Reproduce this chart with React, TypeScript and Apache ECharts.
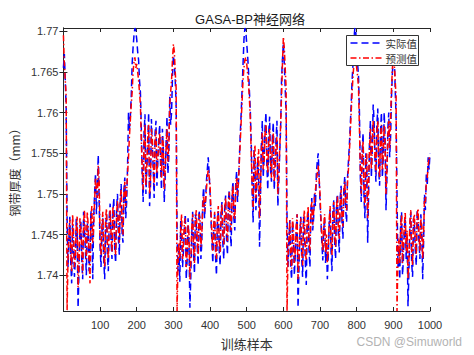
import React, { useEffect, useRef } from "react";
import * as echarts from "echarts";

const titleText = "GASA-BP神经网络";
const xName = "训练样本";
const yName = "钢带厚度（mm）";
const seriesNames = ["实际值", "预测值"];
const xTicks = [100, 200, 300, 400, 500, 600, 700, 800, 900, 1000];
const yTicks = [1.74, 1.745, 1.75, 1.755, 1.76, 1.765, 1.77];

// values read at samples 0,5,10,...,1000
const actual = [
  1.7655, 1.7640, 1.7470, 1.7445, 1.7415, 1.7462, 1.7398, 1.7470, 1.7360, 1.7455,
  1.7420, 1.7478, 1.7430, 1.7465, 1.7405, 1.7480, 1.7395, 1.7500, 1.7475, 1.7548,
  1.7435, 1.7452, 1.7418, 1.7460, 1.7425, 1.7472, 1.7440, 1.7478, 1.7430, 1.7482,
  1.7445, 1.7490, 1.7452, 1.7505, 1.7470, 1.7535, 1.7580, 1.7620, 1.7680, 1.7704,
  1.7690, 1.7665, 1.7625, 1.7520, 1.7575, 1.7500, 1.7560, 1.7485, 1.7592, 1.7530,
  1.7575, 1.7510, 1.7568, 1.7535, 1.7580, 1.7490, 1.7560, 1.7525, 1.7620, 1.7600,
  1.7670, 1.7640, 1.7455, 1.7430, 1.7468, 1.7410, 1.7458, 1.7395, 1.7470, 1.7360,
  1.7450, 1.7425, 1.7475, 1.7435, 1.7480, 1.7420, 1.7492, 1.7470, 1.7515, 1.7545,
  1.7500, 1.7440, 1.7458, 1.7422, 1.7465, 1.7430, 1.7478, 1.7438, 1.7485, 1.7445,
  1.7492, 1.7455, 1.7500, 1.7470, 1.7512, 1.7490, 1.7545, 1.7600, 1.7660, 1.7704,
  1.7685, 1.7650, 1.7600, 1.7500, 1.7555, 1.7480, 1.7545, 1.7435, 1.7560, 1.7520,
  1.7582, 1.7535, 1.7575, 1.7530, 1.7570, 1.7505, 1.7568, 1.7485, 1.7550, 1.7640,
  1.7685, 1.7630, 1.7470, 1.7440, 1.7410, 1.7465, 1.7400, 1.7455, 1.7360, 1.7450,
  1.7420, 1.7472, 1.7415, 1.7465, 1.7430, 1.7480, 1.7455, 1.7500, 1.7525, 1.7550,
  1.7490, 1.7440, 1.7455, 1.7415, 1.7395, 1.7462, 1.7430, 1.7478, 1.7440, 1.7488,
  1.7450, 1.7495, 1.7465, 1.7505, 1.7480, 1.7520, 1.7560, 1.7610, 1.7660, 1.7704,
  1.7670, 1.7645, 1.7520, 1.7555, 1.7495, 1.7550, 1.7440, 1.7565, 1.7520, 1.7610,
  1.7540, 1.7585, 1.7530, 1.7575, 1.7520, 1.7600, 1.7480, 1.7580, 1.7545, 1.7620,
  1.7665, 1.7630, 1.7500, 1.7435, 1.7465, 1.7400, 1.7455, 1.7420, 1.7362, 1.7458,
  1.7415, 1.7470, 1.7430, 1.7480, 1.7440, 1.7475, 1.7395, 1.7500, 1.7525, 1.7545,
  1.7550,
];

// values read at samples 2.5,7.5,...,997.5
const actualMid = [
  1.7672, 1.7605, 1.7410, 1.7472, 1.7390, 1.7440, 1.7418, 1.7452, 1.7405, 1.7468,
  1.7395, 1.7455, 1.7400, 1.7450, 1.7428, 1.7460, 1.7470, 1.7525, 1.7510, 1.7490,
  1.7410, 1.7470, 1.7395, 1.7475, 1.7405, 1.7488, 1.7420, 1.7495, 1.7415, 1.7500,
  1.7425, 1.7512, 1.7440, 1.7520, 1.7490, 1.7600, 1.7595, 1.7660, 1.7695, 1.7700,
  1.7675, 1.7640, 1.7580, 1.7490, 1.7598, 1.7530, 1.7600, 1.7510, 1.7560, 1.7495,
  1.7590, 1.7540, 1.7585, 1.7505, 1.7555, 1.7520, 1.7595, 1.7545, 1.7585, 1.7645,
  1.7660, 1.7610, 1.7405, 1.7392, 1.7450, 1.7430, 1.7475, 1.7420, 1.7440, 1.7398,
  1.7478, 1.7402, 1.7462, 1.7412, 1.7468, 1.7440, 1.7508, 1.7490, 1.7530, 1.7525,
  1.7470, 1.7415, 1.7475, 1.7400, 1.7480, 1.7412, 1.7490, 1.7420, 1.7498, 1.7425,
  1.7505, 1.7435, 1.7515, 1.7455, 1.7528, 1.7515, 1.7575, 1.7630, 1.7690, 1.7700,
  1.7670, 1.7625, 1.7560, 1.7465, 1.7530, 1.7510, 1.7520, 1.7495, 1.7590, 1.7545,
  1.7600, 1.7505, 1.7595, 1.7515, 1.7588, 1.7530, 1.7590, 1.7515, 1.7580, 1.7665,
  1.7660, 1.7600, 1.7410, 1.7468, 1.7395, 1.7445, 1.7425, 1.7475, 1.7408, 1.7472,
  1.7398, 1.7455, 1.7388, 1.7478, 1.7410, 1.7495, 1.7470, 1.7485, 1.7540, 1.7520,
  1.7465, 1.7418, 1.7470, 1.7440, 1.7425, 1.7480, 1.7405, 1.7492, 1.7420, 1.7500,
  1.7428, 1.7510, 1.7445, 1.7522, 1.7465, 1.7540, 1.7585, 1.7640, 1.7690, 1.7700,
  1.7660, 1.7600, 1.7490, 1.7575, 1.7470, 1.7530, 1.7500, 1.7590, 1.7555, 1.7590,
  1.7515, 1.7605, 1.7510, 1.7600, 1.7545, 1.7570, 1.7520, 1.7600, 1.7570, 1.7650,
  1.7670, 1.7595, 1.7410, 1.7395, 1.7478, 1.7420, 1.7470, 1.7445, 1.7405, 1.7478,
  1.7398, 1.7462, 1.7412, 1.7468, 1.7420, 1.7455, 1.7440, 1.7480, 1.7510, 1.7530,
];

const predicted = [
  1.7695, 1.7640, 1.7357, 1.7450, 1.7430, 1.7475, 1.7410, 1.7460, 1.7385, 1.7470,
  1.7435, 1.7465, 1.7445, 1.7478, 1.7420, 1.7470, 1.7440, 1.7490, 1.7505, 1.7535,
  1.7445, 1.7462, 1.7428, 1.7470, 1.7438, 1.7465, 1.7450, 1.7485, 1.7440, 1.7475,
  1.7458, 1.7495, 1.7462, 1.7500, 1.7485, 1.7525, 1.7570, 1.7610, 1.7650, 1.7668,
  1.7660, 1.7640, 1.7610, 1.7530, 1.7565, 1.7510, 1.7570, 1.7500, 1.7580, 1.7540,
  1.7565, 1.7525, 1.7560, 1.7545, 1.7570, 1.7505, 1.7555, 1.7540, 1.7610, 1.7640,
  1.7684, 1.7650, 1.7356, 1.7440, 1.7460, 1.7420, 1.7465, 1.7410, 1.7462, 1.7395,
  1.7458, 1.7435, 1.7470, 1.7445, 1.7475, 1.7435, 1.7485, 1.7478, 1.7505, 1.7530,
  1.7510, 1.7450, 1.7462, 1.7435, 1.7470, 1.7442, 1.7472, 1.7450, 1.7480, 1.7455,
  1.7488, 1.7465, 1.7495, 1.7478, 1.7505, 1.7498, 1.7540, 1.7590, 1.7640, 1.7665,
  1.7660, 1.7635, 1.7590, 1.7510, 1.7548, 1.7495, 1.7540, 1.7470, 1.7555, 1.7530,
  1.7575, 1.7545, 1.7568, 1.7540, 1.7562, 1.7515, 1.7560, 1.7500, 1.7555, 1.7620,
  1.7693, 1.7655, 1.7356, 1.7445, 1.7425, 1.7470, 1.7415, 1.7460, 1.7395, 1.7455,
  1.7430, 1.7468, 1.7428, 1.7470, 1.7440, 1.7478, 1.7462, 1.7495, 1.7515, 1.7535,
  1.7500, 1.7448, 1.7460, 1.7428, 1.7415, 1.7468, 1.7440, 1.7472, 1.7450, 1.7482,
  1.7458, 1.7490, 1.7470, 1.7500, 1.7490, 1.7515, 1.7550, 1.7600, 1.7645, 1.7668,
  1.7655, 1.7630, 1.7530, 1.7548, 1.7505, 1.7545, 1.7470, 1.7558, 1.7530, 1.7590,
  1.7548, 1.7575, 1.7540, 1.7570, 1.7530, 1.7585, 1.7500, 1.7570, 1.7555, 1.7630,
  1.7668, 1.7640, 1.7356, 1.7445, 1.7460, 1.7415, 1.7462, 1.7430, 1.7395, 1.7465,
  1.7428, 1.7468, 1.7440, 1.7475, 1.7448, 1.7470, 1.7420, 1.7495, 1.7515, 1.7535,
  1.7540,
];

const predictedMid = [
  1.7660, 1.7620, 1.7420, 1.7468, 1.7405, 1.7455, 1.7425, 1.7472, 1.7415, 1.7455,
  1.7402, 1.7480, 1.7420, 1.7462, 1.7390, 1.7485, 1.7460, 1.7520, 1.7495, 1.7515,
  1.7425, 1.7478, 1.7410, 1.7482, 1.7420, 1.7480, 1.7428, 1.7470, 1.7425, 1.7492,
  1.7440, 1.7505, 1.7450, 1.7515, 1.7505, 1.7545, 1.7590, 1.7625, 1.7662, 1.7655,
  1.7650, 1.7625, 1.7565, 1.7505, 1.7585, 1.7535, 1.7585, 1.7520, 1.7568, 1.7510,
  1.7578, 1.7545, 1.7575, 1.7520, 1.7560, 1.7530, 1.7580, 1.7560, 1.7625, 1.7665,
  1.7675, 1.7630, 1.7415, 1.7420, 1.7475, 1.7440, 1.7470, 1.7428, 1.7450, 1.7418,
  1.7475, 1.7415, 1.7480, 1.7425, 1.7470, 1.7450, 1.7498, 1.7490, 1.7520, 1.7522,
  1.7480, 1.7430, 1.7478, 1.7420, 1.7485, 1.7428, 1.7488, 1.7438, 1.7495, 1.7442,
  1.7502, 1.7455, 1.7510, 1.7468, 1.7520, 1.7515, 1.7565, 1.7615, 1.7655, 1.7668,
  1.7648, 1.7615, 1.7545, 1.7480, 1.7560, 1.7515, 1.7555, 1.7505, 1.7575, 1.7540,
  1.7585, 1.7525, 1.7580, 1.7520, 1.7575, 1.7535, 1.7570, 1.7525, 1.7585, 1.7660,
  1.7680, 1.7630, 1.7420, 1.7468, 1.7408, 1.7455, 1.7430, 1.7475, 1.7420, 1.7470,
  1.7412, 1.7480, 1.7418, 1.7485, 1.7430, 1.7490, 1.7478, 1.7505, 1.7525, 1.7520,
  1.7470, 1.7430, 1.7475, 1.7450, 1.7432, 1.7485, 1.7425, 1.7490, 1.7435, 1.7498,
  1.7445, 1.7505, 1.7460, 1.7515, 1.7480, 1.7530, 1.7575, 1.7625, 1.7660, 1.7665,
  1.7645, 1.7580, 1.7500, 1.7565, 1.7485, 1.7550, 1.7510, 1.7580, 1.7555, 1.7575,
  1.7525, 1.7590, 1.7520, 1.7585, 1.7550, 1.7560, 1.7530, 1.7590, 1.7595, 1.7655,
  1.7660, 1.7620, 1.7420, 1.7415, 1.7475, 1.7435, 1.7478, 1.7455, 1.7420, 1.7480,
  1.7412, 1.7475, 1.7425, 1.7482, 1.7430, 1.7460, 1.7450, 1.7490, 1.7520, 1.7545,
];

const SAMPLE_STEP = 5;

function mergeSamples(main: number[], mid: number[]): number[][] {
  const out: number[][] = [];
  main.forEach((v, i) => {
    out.push([i * SAMPLE_STEP, v]);
    if (i < mid.length) out.push([i * SAMPLE_STEP + SAMPLE_STEP / 2, mid[i]]);
  });
  return out;
}

const AXIS_COLOR = "#262626";
const LABEL_COLOR = "#333333";
const FONT = "'Liberation Sans', Arial, 'Noto Sans CJK SC', sans-serif";
const CJK_FONT = "'Noto Sans CJK SC', sans-serif";

const BLUE_DASH = [7, 4];
const RED_DASH = [6, 2.5, 1.5, 2.5];

export default function App() {
  const ref = useRef<HTMLDivElement>(null);
  useEffect(() => {
    if (!ref.current) return;
    const chart = echarts.init(ref.current, undefined, { renderer: "svg" });
    const baseX = {
      type: "value" as const,
      min: 0,
      max: 1000,
      splitLine: { show: false },
      axisLine: { show: true, lineStyle: { color: AXIS_COLOR, width: 1 } },
      axisTick: { show: true, inside: true, length: 4, customValues: xTicks, lineStyle: { color: AXIS_COLOR } },
    };
    const baseY = {
      type: "value" as const,
      min: 1.7356,
      max: 1.7704,
      splitLine: { show: false },
      axisLine: { show: true, lineStyle: { color: AXIS_COLOR, width: 1 } },
      axisTick: { show: true, inside: true, length: 4, customValues: yTicks, lineStyle: { color: AXIS_COLOR } },
    };
    const LX = 346.5;
    const LY = 35.5;
    chart.setOption({
      animation: false,
      backgroundColor: "#ffffff",
      title: {
        text: titleText,
        left: 245,
        textAlign: "center",
        top: 8,
        textStyle: { fontSize: 13, fontWeight: "normal", color: "#1a1a1a", fontFamily: FONT },
      },
      grid: { left: 62, right: 44, top: 28, bottom: 40 },
      xAxis: [
        {
          ...baseX,
          position: "bottom",
          name: xName,
          nameLocation: "middle",
          nameGap: 26,
          nameTextStyle: { fontSize: 13, color: LABEL_COLOR, fontFamily: CJK_FONT },
          axisLabel: {
            show: true,
            customValues: xTicks,
            color: LABEL_COLOR,
            fontSize: 11,
            margin: 8,
            fontFamily: FONT,
            formatter: (v: number) => String(v),
          },
        },
        { ...baseX, position: "top", axisLabel: { show: false } },
      ],
      yAxis: [
        {
          ...baseY,
          position: "left",
          name: yName,
          nameLocation: "middle",
          nameGap: 35,
          nameTextStyle: { fontSize: 12, color: LABEL_COLOR, fontFamily: CJK_FONT },
          axisLabel: {
            show: true,
            customValues: yTicks,
            color: LABEL_COLOR,
            fontSize: 11,
            margin: 5,
            fontFamily: FONT,
            formatter: (v: number) => String(Number(v.toFixed(3))),
          },
        },
        { ...baseY, position: "right", axisLabel: { show: false } },
      ],
      series: [
        {
          name: seriesNames[0],
          type: "line",
          data: mergeSamples(actual, actualMid),
          symbol: "none",
          showSymbol: false,
          lineStyle: { color: "#0000ff", width: 1.5, type: BLUE_DASH },
          z: 2,
        },
        {
          name: seriesNames[1],
          type: "line",
          data: mergeSamples(predicted, predictedMid),
          symbol: "none",
          showSymbol: false,
          lineStyle: { color: "#ff0000", width: 1.5, type: RED_DASH },
          z: 3,
        },
      ],
      graphic: [
        {
          type: "rect",
          z: 100,
          zlevel: 0,
          shape: { x: LX, y: LY, width: 72, height: 30 },
          style: { fill: "#ffffff", stroke: "#333333", lineWidth: 1 },
        },
        {
          type: "line",
          z: 101,
          shape: { x1: LX + 4, y1: LY + 7.5, x2: LX + 36, y2: LY + 7.5 },
          style: { stroke: "#0000ff", lineWidth: 1.5, lineDash: BLUE_DASH },
        },
        {
          type: "text",
          z: 101,
          x: LX + 39,
          y: LY + 7.5,
          style: { text: seriesNames[0], fill: "#333333", fontSize: 10.5, fontFamily: CJK_FONT, verticalAlign: "middle" },
        },
        {
          type: "line",
          z: 101,
          shape: { x1: LX + 4, y1: LY + 22.5, x2: LX + 36, y2: LY + 22.5 },
          style: { stroke: "#ff0000", lineWidth: 1.5, lineDash: RED_DASH },
        },
        {
          type: "text",
          z: 101,
          x: LX + 39,
          y: LY + 22.5,
          style: { text: seriesNames[1], fill: "#333333", fontSize: 10.5, fontFamily: CJK_FONT, verticalAlign: "middle" },
        },
        {
          type: "text",
          right: 12,
          top: 336,
          style: { text: "CSDN @Simuworld", fill: "#b3b3b3", fontSize: 12, fontFamily: FONT },
        },
      ],
    });
    return () => chart.dispose();
  }, []);
  return (
    <div
      ref={ref}
      style={{ position: "fixed", left: 0, top: 0, width: 474, height: 355, background: "#fff" }}
    />
  );
}
